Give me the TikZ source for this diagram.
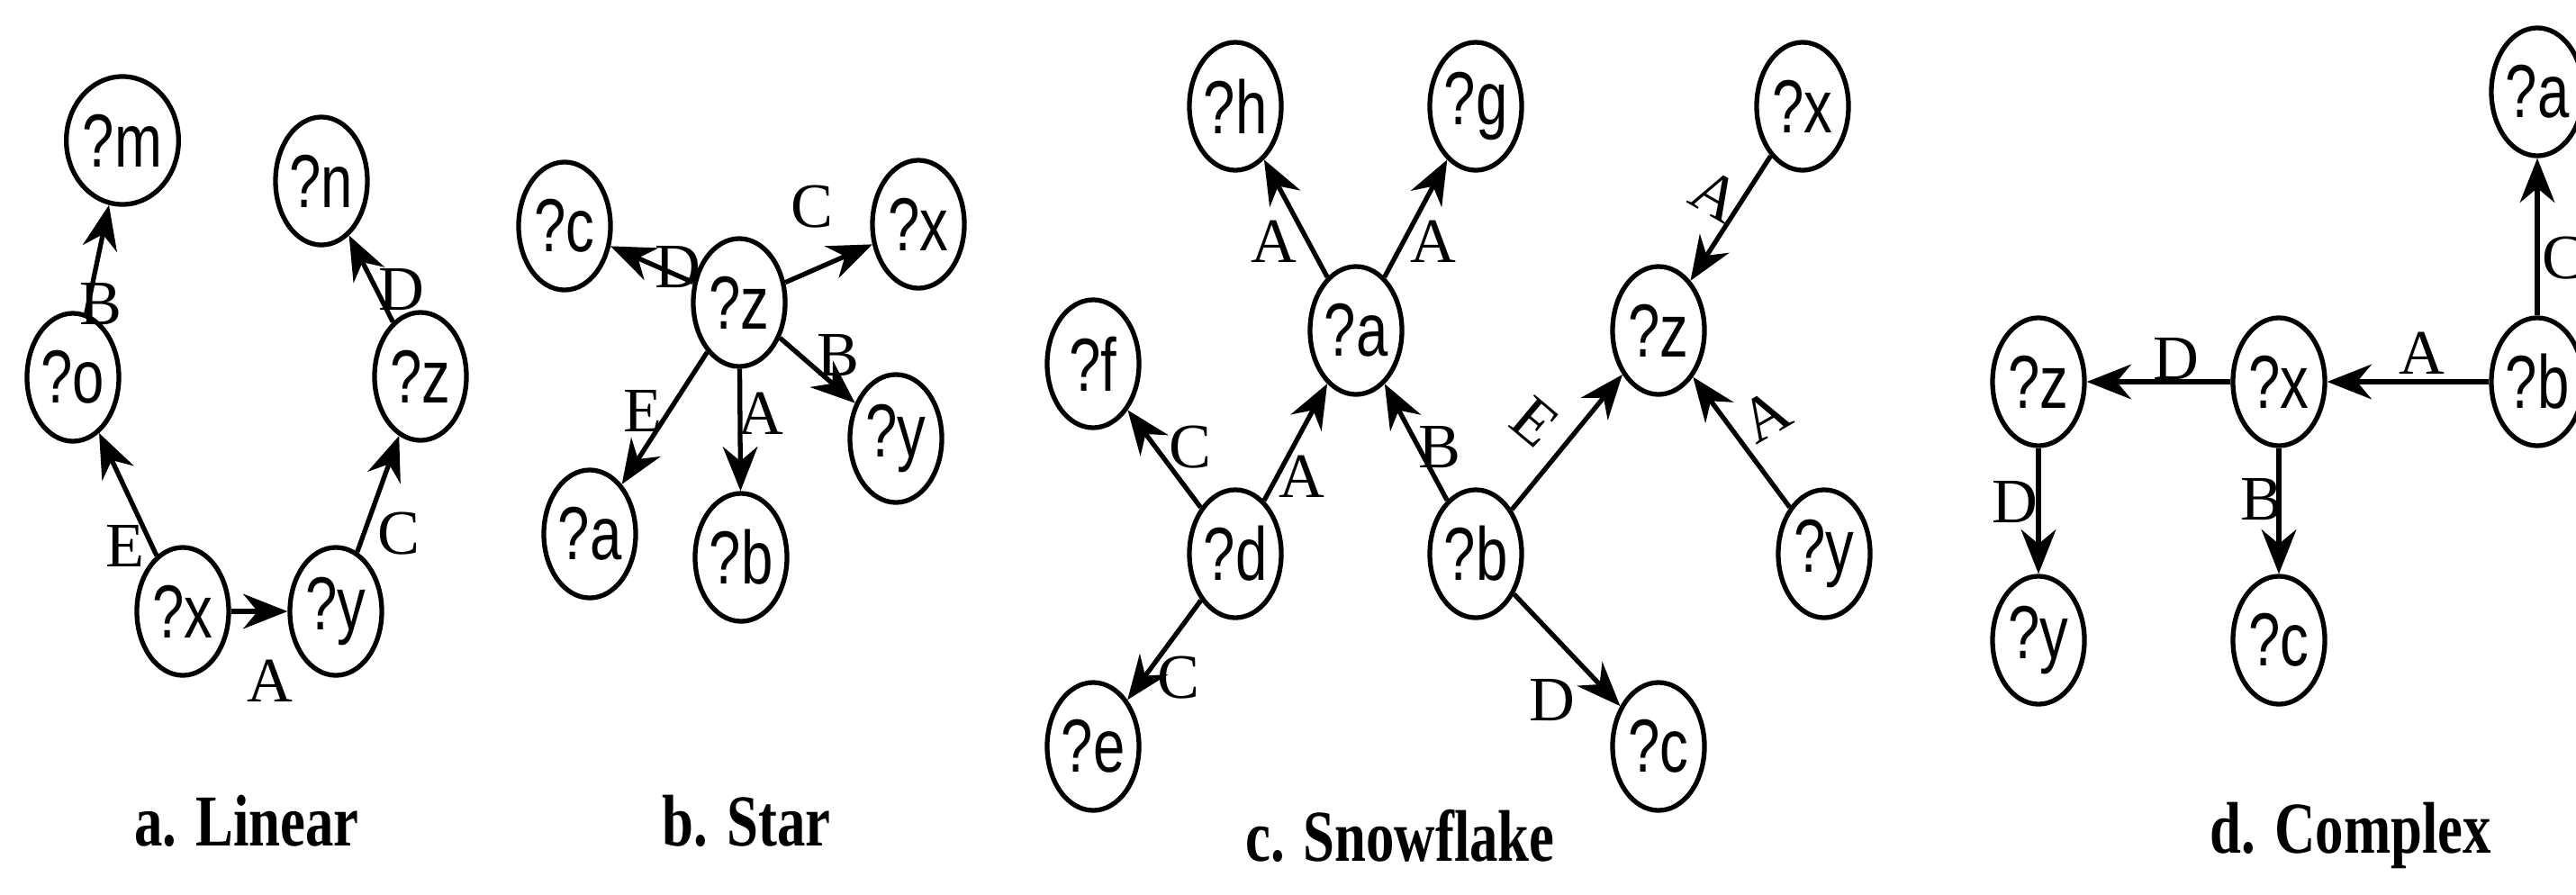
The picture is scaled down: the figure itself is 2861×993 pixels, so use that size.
\documentclass[tikz,border=0pt]{standalone}
\usepackage{fontspec}
\setmainfont{Liberation Serif}
\newfontfamily\arialf{Liberation Sans}
\usetikzlibrary{shapes.geometric,arrows.meta}
\newcommand{\vt}[1]{\scalebox{0.95}[1.25]{#1}}
\newcommand{\ct}[1]{\scalebox{0.85}[1.1]{#1}}
\begin{document}
\begin{tikzpicture}[x=0.01cm,y=-0.01cm,
  var/.style={ellipse,draw,line width=1.5pt,minimum width=1.02cm,minimum height=1.42cm,inner sep=0pt,font=\arialf\fontsize{19}{19}\selectfont},
  edge/.style={line width=1.5pt,-{Stealth[length=14pt,width=11pt]}},
  lab/.style={font=\fontsize{20}{20}\selectfont,inner sep=0pt},
  captext/.style={font=\bfseries\fontsize{21}{21}\selectfont}]
\useasboundingbox (0,0) rectangle (2861,993);
% a
\node[var] (am) at (136,156) {\vt{?m}};
\node[var] (ao) at (81,419) {\vt{?o}};
\node[var] (an) at (357,201) {\vt{?n}};
\node[var] (az) at (467,418) {\vt{?z}};
\node[var] (ax) at (203,679) {\vt{?x}};
\node[var] (ay) at (373,679) {\vt{?y}};
\draw[edge] (ao) -- (am);
\draw[edge] (ax) -- (ao);
\draw[edge] (ax) -- (ay);
\draw[edge] (ay) -- (az);
\draw[edge] (az) -- (an);
\node[lab] (aB) at (112,338) {B};
\node[lab] (aD) at (446,322) {D};
\node[lab] (aE) at (139,606) {E};
\node[lab] (aC) at (443,593) {C};
\node[lab] (aA) at (300,756) {A};
\node[captext] (capa) at (274,912) {\ct{a. Linear}};
% b
\node[var] (bc) at (627,251) {\vt{?c}};
\node[var] (bz) at (821,336) {\vt{?z}};
\node[var] (bx) at (1020,249) {\vt{?x}};
\node[var] (by) at (995,487) {\vt{?y}};
\node[var] (ba) at (655,593) {\vt{?a}};
\node[var] (bb) at (823,619) {\vt{?b}};
\draw[edge] (bz) -- (bc);
\draw[edge] (bz) -- (bx);
\draw[edge] (bz) -- (by);
\draw[edge] (bz) -- (ba);
\draw[edge] (bz) -- (bb);
\node[lab] (bC) at (902,230) {C};
\node[lab] (bD) at (753,297) {D};
\node[lab] (bB) at (931,395) {B};
\node[lab] (bE) at (714,456) {E};
\node[lab] (bA) at (845,459) {A};
\node[captext] (capb) at (829,912) {\ct{b. Star}};
% c
\node[var] (ch) at (1372,118) {\vt{?h}};
\node[var] (cg) at (1639,118) {\vt{?g}};
\node[var] (ca) at (1506,367) {\vt{?a}};
\node[var] (cz) at (1842,367) {\vt{?z}};
\node[var] (cf) at (1214,404) {\vt{?f}};
\node[var] (cd) at (1372,615) {\vt{?d}};
\node[var] (cb) at (1639,615) {\vt{?b}};
\node[var] (ce) at (1214,829) {\vt{?e}};
\node[var] (cc) at (1842,829) {\vt{?c}};
\node[var] (cx) at (2002,118) {\vt{?x}};
\node[var] (cy) at (2026,615) {\vt{?y}};
\draw[edge] (ca) -- (ch);
\draw[edge] (ca) -- (cg);
\draw[edge] (cd) -- (cf);
\draw[edge] (cd) -- (ca);
\draw[edge] (cd) -- (ce);
\draw[edge] (cb) -- (ca);
\draw[edge] (cb) -- (cz);
\draw[edge] (cb) -- (cc);
\draw[edge] (cx) -- (cz);
\draw[edge] (cy) -- (cz);
\node[lab] (cA1) at (1415,268) {A};
\node[lab] (cA2) at (1592,268) {A};
\node[lab] (cC1) at (1322,497) {C};
\node[lab] (cA3) at (1446,529) {A};
\node[lab] (cB) at (1599,497) {B};
\node[lab,rotate=-40] (cE) at (1705,469) {E};
\node[lab] (cC2) at (1309,753) {C};
\node[lab] (cD) at (1724,778) {D};
\node[lab,rotate=-30] (cA4) at (1906,217) {A};
\node[lab,rotate=30] (cA5) at (1961,462) {A};
\node[captext] (capc) at (1555,928) {\ct{c. Snowflake}};
% d
\node[var] (da) at (2818,102) {\vt{?a}};
\node[var] (db) at (2818,424) {\vt{?b}};
\node[var] (dx) at (2531,424) {\vt{?x}};
\node[var] (dz) at (2264,424) {\vt{?z}};
\node[var] (dy) at (2264,711) {\vt{?y}};
\node[var] (dc) at (2531,711) {\vt{?c}};
\draw[edge] (db) -- (da);
\draw[edge] (db) -- (dx);
\draw[edge] (dx) -- (dz);
\draw[edge] (dz) -- (dy);
\draw[edge] (dx) -- (dc);
\node[lab] (dC) at (2847,287) {C};
\node[lab] (dA) at (2690,392) {A};
\node[lab] (dD1) at (2417,399) {D};
\node[lab] (dD2) at (2238,558) {D};
\node[lab] (dB) at (2512,555) {B};
\node[captext] (capd) at (2611,928) {\ct{d. Complex}};
\end{tikzpicture}
\end{document}
